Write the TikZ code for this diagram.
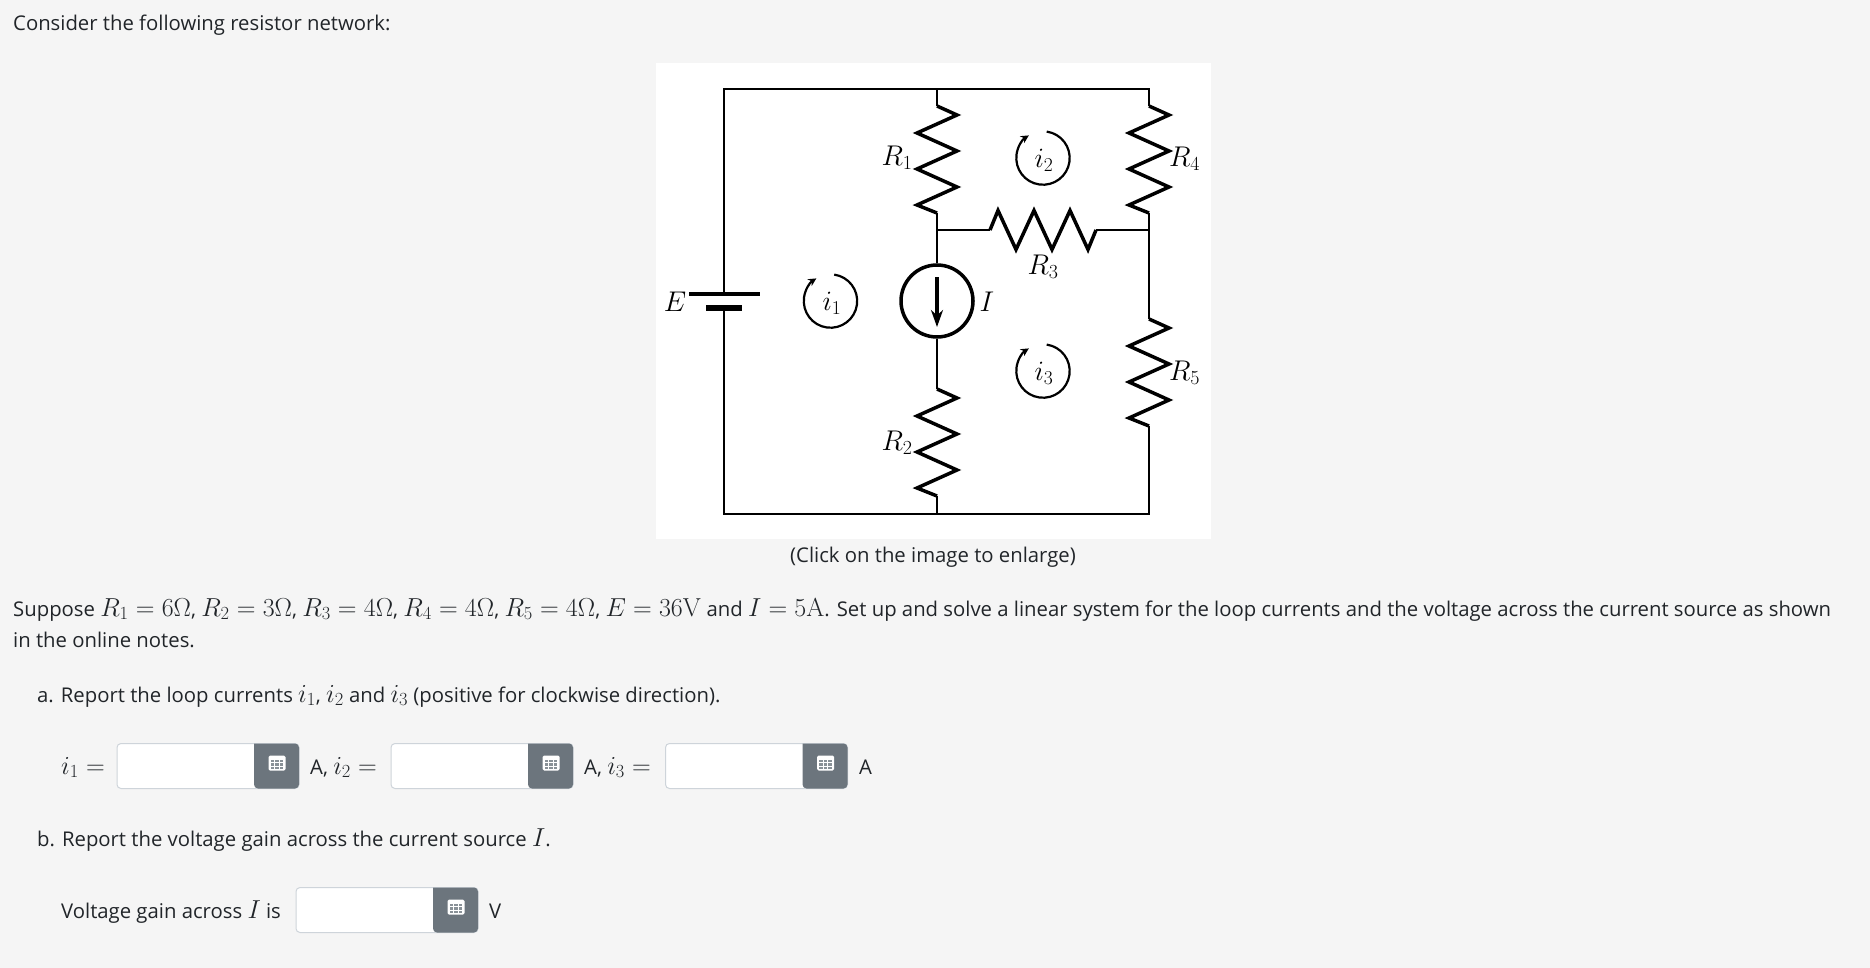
\documentclass[tikz,border=0pt]{standalone}
\usepackage{fix-cm}
\usepackage[no-math]{fontspec}
\setmainfont{Open Sans}
\usetikzlibrary{arrows.meta,shapes.geometric}
\DeclareMathSizes{20.3}{26}{18.5}{13}
\definecolor{pagebg}{HTML}{F5F5F5}
\definecolor{inktext}{HTML}{212529}
\definecolor{btngrey}{HTML}{6C757D}
\definecolor{boxline}{HTML}{CED4DA}
\newcommand{\vres}[2]{\draw[zig] (#1) -- ++(20,9) -- ++(-40,18) -- ++(40,18) -- ++(-40,18) -- ++(40,18) -- ++(-40,18) -- (#2);}
\tikzset{
	wire/.style = {line width=2.6pt},
	zig/.style = {line width=3.5pt, miter limit=10},
	ctext/.style = {font=\fontsize{28.5}{30}\selectfont, inner sep=0pt},
	itext/.style = {font=\fontsize{28}{30}\selectfont, inner sep=0pt},
	txt/.style = {font=\fontsize{20.3}{24}\selectfont, text=inktext, inner sep=0pt, anchor=base west},
	loopline/.style = {line width=2.2pt, -{Stealth[length=8pt,width=8pt]}},
	answer/.pic = {
		\filldraw[fill=white,draw=boxline,rounded corners=4pt,line width=1pt] (0,0) rectangle (182,45);
		\fill[btngrey,rounded corners=4pt] (137,0) -- (182,0) -- (182,45) -- (137,45) [sharp corners] -- cycle;
		\fill[white,rounded corners=1.5pt] (151.5,12) rectangle (168.5,27);
		\foreach \i in {0,1,2}
		\foreach \j in {0,1,2}
		\fill[btngrey!80] (153.7+\i*4.6,16+\j*3.6) rectangle ++(3.4,2.4);
	}
}
\begin{document}
\begin{tikzpicture}[x=1pt,y=-1pt]
	\useasboundingbox (0,0) rectangle (1870,968);
	\fill[pagebg] (0,0) rectangle (1870,968);
	\fill[white] (656,63) rectangle (1211,539);

	% circuit points
	\coordinate (tl) at (724,89);
	\coordinate (tm) at (937,89);
	\coordinate (tr) at (1149,89);
	\coordinate (bl) at (724,514);
	\coordinate (bm) at (937,514);
	\coordinate (br) at (1149,514);
	\coordinate (ml) at (937,230);
	\coordinate (mr) at (1149,230);
	\coordinate (batt1) at (724,294);
	\coordinate (batt2) at (724,308);
	\coordinate (r1a) at (937,106);
	\coordinate (r1b) at (937,213);
	\coordinate (r2a) at (937,389);
	\coordinate (r2b) at (937,496);
	\coordinate (r3a) at (990,230);
	\coordinate (r3b) at (1096,230);
	\coordinate (r4a) at (1149,106);
	\coordinate (r4b) at (1149,213);
	\coordinate (r5a) at (1149,319);
	\coordinate (r5b) at (1149,426);
	\node[draw, circle, line width=3.5pt, minimum size=72pt, inner sep=0pt] (src) at (937,301) {};
	\coordinate (arrtop) at (937,277);
	\coordinate (arrbot) at (937,327);

	\draw[wire] (batt1) to (tl) to (tr) to (r4a)
	(tm) to (r1a)
	(r1b) to (src.north)
	(ml) to (r3a)
	(r3b) to (mr)
	(r4b) to (r5a)
	(r5b) to (br) to (bl) to (batt2)
	(src.south) to (r2a)
	(r2b) to (bm);

	\vres{r1a}{r1b}
	\vres{r2a}{r2b}
	\vres{r4a}{r4b}
	\vres{r5a}{r5b}
	\draw[zig] (r3a) -- ++(8,-19.5) -- ++(18,39) -- ++(18,-39) -- ++(18,39) -- ++(18,-39) -- ++(18,39) -- (r3b);

	% battery
	\coordinate (p1a) at (689,294);
	\coordinate (p1b) at (760,294);
	\coordinate (p2a) at (706,308);
	\coordinate (p2b) at (742,308);
	\draw[line width=3.6pt] (p1a) to (p1b);
	\draw[line width=6.5pt] (p2a) to (p2b);

	\draw[line width=3.4pt, -{Stealth[length=17pt,width=12pt]}] (arrtop) to (arrbot);

	% loops
	\node[itext] (i1) at (832,303) {$i_1$};
	\node[itext] (i2) at (1044,160) {$i_2$};
	\node[itext] (i3) at (1044,373) {$i_3$};
	\coordinate (c1) at (830.5,301);
	\coordinate (c2) at (1043,158);
	\coordinate (c3) at (1043,371);
	\draw[loopline] (c1) ++(3.7,-26.4) arc[start angle=82, end angle=-238, radius=26.7pt];
	\draw[loopline] (c2) ++(3.7,-26.4) arc[start angle=82, end angle=-238, radius=26.7pt];
	\draw[loopline] (c3) ++(3.7,-26.4) arc[start angle=82, end angle=-238, radius=26.7pt];

	% labels
	\node[ctext] (lr1) at (897,158) {$R_1$};
	\node[ctext] (lr2) at (897,443) {$R_2$};
	\node[ctext] (lr3) at (1043,267) {$R_3$};
	\node[ctext] (lr4) at (1184.5,159) {$R_4$};
	\node[ctext] (lr5) at (1184.5,373) {$R_5$};
	\node[ctext] (le) at (675,302) {$E$};
	\node[ctext] (li) at (987,302) {$I$};

	% text
	\node[txt] (intro) at (13,31) {Consider the following resistor network:};
	\node[txt, anchor=base] (click) at (933,562) {(Click on the image to enlarge)};
	\node[txt] (sup1) at (13,616) {Suppose $R_1=6\Omega$, $R_2=3\Omega$, $R_3=4\Omega$, $R_4=4\Omega$, $R_5=4\Omega$, $E=36\mathrm{V}$ and $I=5\mathrm{A}$. Set up and solve a linear system for the loop currents and the voltage across the current source as shown};
	\node[txt] (sup2) at (13,647) {in the online notes.};
	\node[txt] (parta) at (37,702) {a. Report the loop currents $i_1$, $i_2$ and $i_3$ (positive for clockwise direction).};
	\node[txt] (eq1) at (61,774) {$i_1=$};
	\pic (box1) at (117,743.5) {answer};
	\node[txt] (eq2) at (310,774) {A, $i_2=$};
	\pic (box2) at (391,743.5) {answer};
	\node[txt] (eq3) at (584,774) {A, $i_3=$};
	\pic (box3) at (665.5,743.5) {answer};
	\node[txt] (unita) at (859,774) {A};
	\node[txt] (partb) at (37,846) {b. Report the voltage gain across the current source $I$.};
	\node[txt] (gain) at (61,918) {Voltage gain across $I$ is};
	\pic (box4) at (296,887.5) {answer};
	\node[txt] (unitv) at (489,918) {V};
\end{tikzpicture}
\end{document}
